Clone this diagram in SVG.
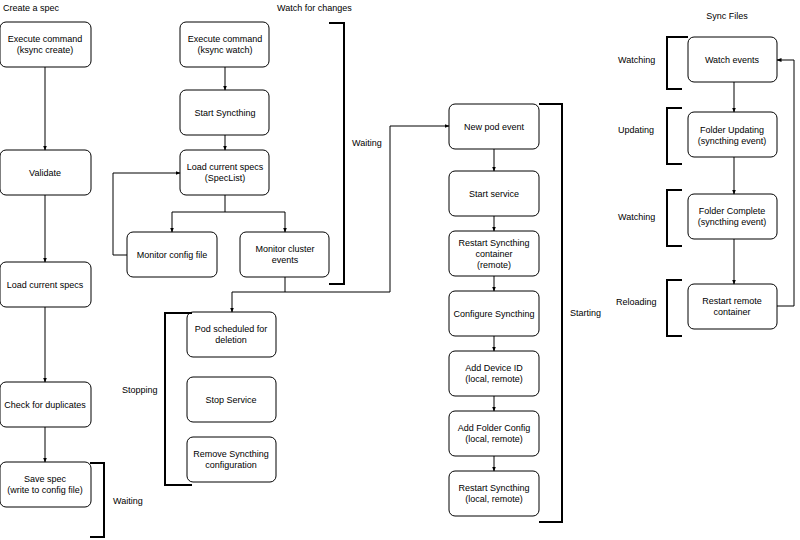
<svg xmlns="http://www.w3.org/2000/svg" width="800" height="540" viewBox="0 0 800 540">
<style>
.b{fill:#fff;stroke:#000;stroke-width:1}
text{font-family:"Liberation Sans",Arial,sans-serif;font-size:9px;fill:#000;text-anchor:middle}
.l{text-anchor:start}
.c{fill:none;stroke:#000;stroke-width:1}
.k{fill:none;stroke:#000;stroke-width:2}
</style>
<defs><marker id="a" viewBox="0 0 10 10" refX="9" refY="5" markerWidth="5" markerHeight="5" orient="auto"><path d="M0,1L10,5L0,9z"/></marker></defs>
<rect width="800" height="540" fill="#fff"/>
<text class="l" x="3" y="11">Create a spec</text>
<text class="l" x="277" y="11">Watch for changes</text>
<text x="727" y="19">Sync Files</text>
<g id="c1">
<g id="n1"><rect class="b" x="0" y="22" width="91" height="45" rx="6"/><text x="45" y="42">Execute command</text><text x="45" y="53">(ksync create)</text></g>
<g id="n2"><rect class="b" x="0" y="150" width="91" height="45" rx="6"/><text x="45" y="176">Validate</text></g>
<g id="n3"><rect class="b" x="0" y="262" width="91" height="45" rx="6"/><text x="45" y="288">Load current specs</text></g>
<g id="n4"><rect class="b" x="0" y="382" width="91" height="45" rx="6"/><text x="45" y="408">Check for duplicates</text></g>
<g id="n5"><rect class="b" x="0" y="462" width="91" height="45" rx="6"/><text x="45" y="482">Save spec</text><text x="45" y="493">(write to config file)</text></g>
</g>
<g id="c2">
<g id="m1"><rect class="b" x="180" y="22" width="89" height="45" rx="6"/><text x="225" y="42">Execute command</text><text x="225" y="53">(ksync watch)</text></g>
<g id="m2"><rect class="b" x="180" y="90" width="89" height="45" rx="6"/><text x="225" y="116">Start Syncthing</text></g>
<g id="m3"><rect class="b" x="180" y="150" width="89" height="45" rx="6"/><text x="225" y="170">Load current specs</text><text x="225" y="181">(SpecList)</text></g>
<g id="m4"><rect class="b" x="127" y="232" width="90" height="45" rx="6"/><text x="172" y="258">Monitor config file</text></g>
<g id="m5"><rect class="b" x="240" y="232" width="89" height="45" rx="6"/><text x="285" y="252">Monitor cluster</text><text x="285" y="263">events</text></g>
<g id="s1"><rect class="b" x="187" y="312" width="89" height="45" rx="6"/><text x="231" y="332">Pod scheduled for</text><text x="231" y="343">deletion</text></g>
<g id="s2"><rect class="b" x="187" y="377" width="89" height="45" rx="6"/><text x="231" y="403">Stop Service</text></g>
<g id="s3"><rect class="b" x="187" y="437" width="89" height="45" rx="6"/><text x="231" y="457">Remove Syncthing</text><text x="231" y="468">configuration</text></g>
</g>
<g id="c3">
<g id="p1"><rect class="b" x="449" y="104" width="90" height="45" rx="6"/><text x="494" y="130">New pod event</text></g>
<g id="p2"><rect class="b" x="449" y="171" width="90" height="45" rx="6"/><text x="494" y="197">Start service</text></g>
<g id="p3"><rect class="b" x="449" y="231" width="90" height="45" rx="6"/><text x="494" y="246">Restart Syncthing</text><text x="494" y="257">container</text><text x="494" y="268">(remote)</text></g>
<g id="p4"><rect class="b" x="449" y="291" width="90" height="45" rx="6"/><text x="494" y="317">Configure Syncthing</text></g>
<g id="p5"><rect class="b" x="449" y="351" width="90" height="45" rx="6"/><text x="494" y="371">Add Device ID</text><text x="494" y="382">(local, remote)</text></g>
<g id="p6"><rect class="b" x="449" y="411" width="90" height="45" rx="6"/><text x="494" y="431">Add Folder Config</text><text x="494" y="442">(local, remote)</text></g>
<g id="p7"><rect class="b" x="449" y="471" width="90" height="45" rx="6"/><text x="494" y="491">Restart Syncthing</text><text x="494" y="502">(local, remote)</text></g>
</g>
<g id="c4">
<g id="f1"><rect class="b" x="688" y="37" width="89" height="45" rx="6"/><text x="732" y="63">Watch events</text></g>
<g id="f2"><rect class="b" x="688" y="112" width="89" height="45" rx="6"/><text x="732" y="133">Folder Updating</text><text x="732" y="144">(syncthing event)</text></g>
<g id="f3"><rect class="b" x="688" y="194" width="89" height="45" rx="6"/><text x="732" y="214">Folder Complete</text><text x="732" y="225">(syncthing event)</text></g>
<g id="f4"><rect class="b" x="688" y="284" width="89" height="45" rx="6"/><text x="732" y="304">Restart remote</text><text x="732" y="315">container</text></g>
</g>
<g id="brackets">
<path class="k" d="M329,23H344V284H329"/><text class="l" x="352" y="146">Waiting</text>
<path class="k" d="M192,313H165V485H192"/><text class="l" x="122" y="393">Stopping</text>
<path class="k" d="M90,463H104V537H90"/><text class="l" x="113" y="504">Waiting</text>
<path class="k" d="M539,104H562V522H539"/><text class="l" x="570" y="316">Starting</text>
<path class="k" d="M688,37H667V89H682"/><text class="l" x="618" y="63">Watching</text>
<path class="k" d="M682,108H667V164H682"/><text class="l" x="618" y="133">Updating</text>
<path class="k" d="M682,190H667V246H682"/><text class="l" x="618" y="220">Watching</text>
<path class="k" d="M682,280H667V336H682"/><text class="l" x="616" y="305">Reloading</text>
</g>
<g id="connectors">
<path class="c" marker-end="url(#a)" d="M45,67V150"/>
<path class="c" marker-end="url(#a)" d="M45,195V262"/>
<path class="c" marker-end="url(#a)" d="M45,307V382"/>
<path class="c" marker-end="url(#a)" d="M45,427V462"/>
<path class="c" marker-end="url(#a)" d="M225,67V90"/>
<path class="c" marker-end="url(#a)" d="M225,135V150"/>
<path class="c" marker-end="url(#a)" d="M225,195V212H172V232"/>
<path class="c" marker-end="url(#a)" d="M225,212H285V232"/>
<path class="c" marker-end="url(#a)" d="M127,255H113V173H180"/>
<path class="c" marker-end="url(#a)" d="M285,277V292H390V126H449"/>
<path class="c" marker-end="url(#a)" d="M285,292H232V312"/>
<path class="c" marker-end="url(#a)" d="M494,149V171"/>
<path class="c" marker-end="url(#a)" d="M494,216V231"/>
<path class="c" marker-end="url(#a)" d="M494,276V291"/>
<path class="c" marker-end="url(#a)" d="M494,336V351"/>
<path class="c" marker-end="url(#a)" d="M494,396V411"/>
<path class="c" marker-end="url(#a)" d="M494,456V471"/>
<path class="c" marker-end="url(#a)" d="M734,82V112"/>
<path class="c" marker-end="url(#a)" d="M734,157V194"/>
<path class="c" marker-end="url(#a)" d="M734,239V284"/>
<path class="c" marker-end="url(#a)" d="M777,306H794V60H777"/>
</g>
</svg>
